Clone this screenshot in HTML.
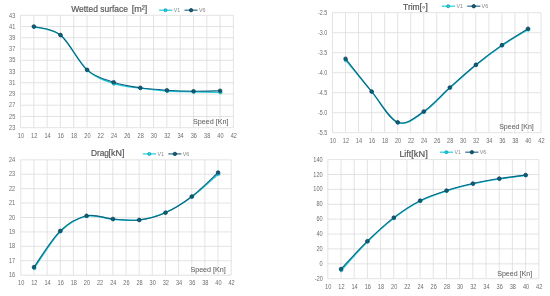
<!DOCTYPE html>
<html><head><meta charset="utf-8"><title>Charts</title>
<style>
html,body{margin:0;padding:0;background:#fff;}
body{width:550px;height:296px;overflow:hidden;}
svg{display:block;filter:blur(0.3px);}
.t{font-family:"Liberation Sans", "DejaVu Sans", sans-serif;font-size:6.6px;fill:#6e6e6e;}
.ti{font-family:"Liberation Sans", "DejaVu Sans", sans-serif;font-size:8.8px;fill:#595959;stroke:#595959;stroke-width:0.2px;}
.sp{font-family:"Liberation Sans", "DejaVu Sans", sans-serif;font-size:7.7px;fill:#626262;stroke:#626262;stroke-width:0.05px;}
.lg{font-family:"Liberation Sans", "DejaVu Sans", sans-serif;font-size:6.2px;fill:#888;}
</style></head><body>
<svg width="550" height="296" viewBox="0 0 550 296">
<rect width="550" height="296" fill="#fff"/>
<g>
<line x1="20.50" y1="15.30" x2="20.50" y2="127.70" stroke="#dcdcdc" stroke-width="0.8"/>
<line x1="33.81" y1="15.30" x2="33.81" y2="127.70" stroke="#dcdcdc" stroke-width="0.8"/>
<line x1="47.11" y1="15.30" x2="47.11" y2="127.70" stroke="#dcdcdc" stroke-width="0.8"/>
<line x1="60.42" y1="15.30" x2="60.42" y2="127.70" stroke="#dcdcdc" stroke-width="0.8"/>
<line x1="73.72" y1="15.30" x2="73.72" y2="127.70" stroke="#dcdcdc" stroke-width="0.8"/>
<line x1="87.03" y1="15.30" x2="87.03" y2="127.70" stroke="#dcdcdc" stroke-width="0.8"/>
<line x1="100.34" y1="15.30" x2="100.34" y2="127.70" stroke="#dcdcdc" stroke-width="0.8"/>
<line x1="113.64" y1="15.30" x2="113.64" y2="127.70" stroke="#dcdcdc" stroke-width="0.8"/>
<line x1="126.95" y1="15.30" x2="126.95" y2="127.70" stroke="#dcdcdc" stroke-width="0.8"/>
<line x1="140.26" y1="15.30" x2="140.26" y2="127.70" stroke="#dcdcdc" stroke-width="0.8"/>
<line x1="153.56" y1="15.30" x2="153.56" y2="127.70" stroke="#dcdcdc" stroke-width="0.8"/>
<line x1="166.87" y1="15.30" x2="166.87" y2="127.70" stroke="#dcdcdc" stroke-width="0.8"/>
<line x1="180.18" y1="15.30" x2="180.18" y2="127.70" stroke="#dcdcdc" stroke-width="0.8"/>
<line x1="193.48" y1="15.30" x2="193.48" y2="127.70" stroke="#dcdcdc" stroke-width="0.8"/>
<line x1="206.79" y1="15.30" x2="206.79" y2="127.70" stroke="#dcdcdc" stroke-width="0.8"/>
<line x1="220.09" y1="15.30" x2="220.09" y2="127.70" stroke="#dcdcdc" stroke-width="0.8"/>
<line x1="233.40" y1="15.30" x2="233.40" y2="127.70" stroke="#dcdcdc" stroke-width="0.8"/>
<line x1="20.50" y1="15.30" x2="233.40" y2="15.30" stroke="#dcdcdc" stroke-width="0.8"/>
<line x1="20.50" y1="26.54" x2="233.40" y2="26.54" stroke="#dcdcdc" stroke-width="0.8"/>
<line x1="20.50" y1="37.78" x2="233.40" y2="37.78" stroke="#dcdcdc" stroke-width="0.8"/>
<line x1="20.50" y1="49.02" x2="233.40" y2="49.02" stroke="#dcdcdc" stroke-width="0.8"/>
<line x1="20.50" y1="60.26" x2="233.40" y2="60.26" stroke="#dcdcdc" stroke-width="0.8"/>
<line x1="20.50" y1="71.50" x2="233.40" y2="71.50" stroke="#dcdcdc" stroke-width="0.8"/>
<line x1="20.50" y1="82.74" x2="233.40" y2="82.74" stroke="#dcdcdc" stroke-width="0.8"/>
<line x1="20.50" y1="93.98" x2="233.40" y2="93.98" stroke="#dcdcdc" stroke-width="0.8"/>
<line x1="20.50" y1="105.22" x2="233.40" y2="105.22" stroke="#dcdcdc" stroke-width="0.8"/>
<line x1="20.50" y1="116.46" x2="233.40" y2="116.46" stroke="#dcdcdc" stroke-width="0.8"/>
<line x1="20.50" y1="127.70" x2="233.40" y2="127.70" stroke="#dcdcdc" stroke-width="0.8"/>
<text x="20.90" y="138.40" text-anchor="middle" class="t" textLength="6.24" lengthAdjust="spacingAndGlyphs">10</text>
<text x="34.21" y="138.40" text-anchor="middle" class="t" textLength="6.24" lengthAdjust="spacingAndGlyphs">12</text>
<text x="47.51" y="138.40" text-anchor="middle" class="t" textLength="6.24" lengthAdjust="spacingAndGlyphs">14</text>
<text x="60.82" y="138.40" text-anchor="middle" class="t" textLength="6.24" lengthAdjust="spacingAndGlyphs">16</text>
<text x="74.12" y="138.40" text-anchor="middle" class="t" textLength="6.24" lengthAdjust="spacingAndGlyphs">18</text>
<text x="87.43" y="138.40" text-anchor="middle" class="t" textLength="6.24" lengthAdjust="spacingAndGlyphs">20</text>
<text x="100.74" y="138.40" text-anchor="middle" class="t" textLength="6.24" lengthAdjust="spacingAndGlyphs">22</text>
<text x="114.04" y="138.40" text-anchor="middle" class="t" textLength="6.24" lengthAdjust="spacingAndGlyphs">24</text>
<text x="127.35" y="138.40" text-anchor="middle" class="t" textLength="6.24" lengthAdjust="spacingAndGlyphs">26</text>
<text x="140.66" y="138.40" text-anchor="middle" class="t" textLength="6.24" lengthAdjust="spacingAndGlyphs">28</text>
<text x="153.96" y="138.40" text-anchor="middle" class="t" textLength="6.24" lengthAdjust="spacingAndGlyphs">30</text>
<text x="167.27" y="138.40" text-anchor="middle" class="t" textLength="6.24" lengthAdjust="spacingAndGlyphs">32</text>
<text x="180.58" y="138.40" text-anchor="middle" class="t" textLength="6.24" lengthAdjust="spacingAndGlyphs">34</text>
<text x="193.88" y="138.40" text-anchor="middle" class="t" textLength="6.24" lengthAdjust="spacingAndGlyphs">36</text>
<text x="207.19" y="138.40" text-anchor="middle" class="t" textLength="6.24" lengthAdjust="spacingAndGlyphs">38</text>
<text x="220.49" y="138.40" text-anchor="middle" class="t" textLength="6.24" lengthAdjust="spacingAndGlyphs">40</text>
<text x="233.80" y="138.40" text-anchor="middle" class="t" textLength="6.24" lengthAdjust="spacingAndGlyphs">42</text>
<text x="15.30" y="17.50" text-anchor="end" class="t" textLength="6.24" lengthAdjust="spacingAndGlyphs">43</text>
<text x="15.30" y="28.74" text-anchor="end" class="t" textLength="6.24" lengthAdjust="spacingAndGlyphs">41</text>
<text x="15.30" y="39.98" text-anchor="end" class="t" textLength="6.24" lengthAdjust="spacingAndGlyphs">39</text>
<text x="15.30" y="51.22" text-anchor="end" class="t" textLength="6.24" lengthAdjust="spacingAndGlyphs">37</text>
<text x="15.30" y="62.46" text-anchor="end" class="t" textLength="6.24" lengthAdjust="spacingAndGlyphs">35</text>
<text x="15.30" y="73.70" text-anchor="end" class="t" textLength="6.24" lengthAdjust="spacingAndGlyphs">33</text>
<text x="15.30" y="84.94" text-anchor="end" class="t" textLength="6.24" lengthAdjust="spacingAndGlyphs">31</text>
<text x="15.30" y="96.18" text-anchor="end" class="t" textLength="6.24" lengthAdjust="spacingAndGlyphs">29</text>
<text x="15.30" y="107.42" text-anchor="end" class="t" textLength="6.24" lengthAdjust="spacingAndGlyphs">27</text>
<text x="15.30" y="118.66" text-anchor="end" class="t" textLength="6.24" lengthAdjust="spacingAndGlyphs">25</text>
<text x="15.30" y="129.90" text-anchor="end" class="t" textLength="6.24" lengthAdjust="spacingAndGlyphs">23</text>
<text x="71.20" y="11.80" class="ti" textLength="56.8" lengthAdjust="spacingAndGlyphs">Wetted surface</text>
<text x="131.80" y="11.80" class="ti" textLength="15.6" lengthAdjust="spacingAndGlyphs">[m²]</text>
<text x="228.50" y="124.40" text-anchor="end" class="sp" textLength="35.6" lengthAdjust="spacingAndGlyphs">Speed [Kn]</text>
<line x1="159.10" y1="10.20" x2="172.30" y2="10.20" stroke="#2fd3de" stroke-width="1.3"/>
<circle cx="165.50" cy="10.20" r="1.5" fill="#20d8e4" stroke="#0b98ab" stroke-width="0.8"/>
<text x="173.70" y="12.40" class="lg" textLength="6.4" lengthAdjust="spacingAndGlyphs">V1</text>
<line x1="184.50" y1="10.20" x2="197.60" y2="10.20" stroke="#3d7995" stroke-width="1.3"/>
<circle cx="191.10" cy="10.20" r="1.7" fill="#155c76" stroke="#0a3c54" stroke-width="0.8"/>
<text x="198.90" y="12.40" class="lg" textLength="6.6" lengthAdjust="spacingAndGlyphs">V6</text>
<path d="M34.16,26.89 C38.59,28.30 51.90,28.11 60.77,35.32 C69.64,42.53 78.51,62.11 87.38,70.16 C96.25,78.22 105.12,80.65 113.99,83.65 C122.86,86.65 131.74,86.93 140.61,88.15 C149.48,89.37 158.35,90.37 167.22,90.96 C176.09,91.55 184.96,91.45 193.83,91.69 C202.70,91.92 216.01,92.25 220.44,92.36" fill="none" stroke="#18c8d6" stroke-width="1.4" stroke-linecap="round"/>
<circle cx="34.16" cy="26.89" r="1.7" fill="#20d8e4" stroke="#0b98ab" stroke-width="0.6"/>
<circle cx="60.77" cy="35.32" r="1.7" fill="#20d8e4" stroke="#0b98ab" stroke-width="0.6"/>
<circle cx="87.38" cy="70.16" r="1.7" fill="#20d8e4" stroke="#0b98ab" stroke-width="0.6"/>
<circle cx="113.99" cy="83.65" r="1.7" fill="#20d8e4" stroke="#0b98ab" stroke-width="0.6"/>
<circle cx="140.61" cy="88.15" r="1.7" fill="#20d8e4" stroke="#0b98ab" stroke-width="0.6"/>
<circle cx="167.22" cy="90.96" r="1.7" fill="#20d8e4" stroke="#0b98ab" stroke-width="0.6"/>
<circle cx="193.83" cy="91.69" r="1.7" fill="#20d8e4" stroke="#0b98ab" stroke-width="0.6"/>
<circle cx="220.44" cy="92.36" r="1.7" fill="#20d8e4" stroke="#0b98ab" stroke-width="0.6"/>
<path d="M33.81,26.54 C38.24,27.95 51.55,27.76 60.42,34.97 C69.29,42.18 78.16,61.95 87.03,69.81 C95.90,77.68 104.77,79.18 113.64,82.18 C122.51,85.18 131.39,86.45 140.26,87.80 C149.13,89.15 158.00,89.70 166.87,90.27 C175.74,90.84 184.61,91.14 193.48,91.23 C202.35,91.31 215.66,90.85 220.09,90.78" fill="none" stroke="#0f6380" stroke-width="1.1" stroke-linecap="round"/>
<circle cx="33.81" cy="26.54" r="1.8" fill="#155c76" stroke="#0a3c54" stroke-width="0.7"/>
<circle cx="60.42" cy="34.97" r="1.8" fill="#155c76" stroke="#0a3c54" stroke-width="0.7"/>
<circle cx="87.03" cy="69.81" r="1.8" fill="#155c76" stroke="#0a3c54" stroke-width="0.7"/>
<circle cx="113.64" cy="82.18" r="1.8" fill="#155c76" stroke="#0a3c54" stroke-width="0.7"/>
<circle cx="140.26" cy="87.80" r="1.8" fill="#155c76" stroke="#0a3c54" stroke-width="0.7"/>
<circle cx="166.87" cy="90.27" r="1.8" fill="#155c76" stroke="#0a3c54" stroke-width="0.7"/>
<circle cx="193.48" cy="91.23" r="1.8" fill="#155c76" stroke="#0a3c54" stroke-width="0.7"/>
<circle cx="220.09" cy="90.78" r="1.8" fill="#155c76" stroke="#0a3c54" stroke-width="0.7"/>
</g>
<g>
<line x1="332.50" y1="12.70" x2="332.50" y2="132.70" stroke="#dcdcdc" stroke-width="0.8"/>
<line x1="345.53" y1="12.70" x2="345.53" y2="132.70" stroke="#dcdcdc" stroke-width="0.8"/>
<line x1="358.56" y1="12.70" x2="358.56" y2="132.70" stroke="#dcdcdc" stroke-width="0.8"/>
<line x1="371.59" y1="12.70" x2="371.59" y2="132.70" stroke="#dcdcdc" stroke-width="0.8"/>
<line x1="384.62" y1="12.70" x2="384.62" y2="132.70" stroke="#dcdcdc" stroke-width="0.8"/>
<line x1="397.66" y1="12.70" x2="397.66" y2="132.70" stroke="#dcdcdc" stroke-width="0.8"/>
<line x1="410.69" y1="12.70" x2="410.69" y2="132.70" stroke="#dcdcdc" stroke-width="0.8"/>
<line x1="423.72" y1="12.70" x2="423.72" y2="132.70" stroke="#dcdcdc" stroke-width="0.8"/>
<line x1="436.75" y1="12.70" x2="436.75" y2="132.70" stroke="#dcdcdc" stroke-width="0.8"/>
<line x1="449.78" y1="12.70" x2="449.78" y2="132.70" stroke="#dcdcdc" stroke-width="0.8"/>
<line x1="462.81" y1="12.70" x2="462.81" y2="132.70" stroke="#dcdcdc" stroke-width="0.8"/>
<line x1="475.84" y1="12.70" x2="475.84" y2="132.70" stroke="#dcdcdc" stroke-width="0.8"/>
<line x1="488.88" y1="12.70" x2="488.88" y2="132.70" stroke="#dcdcdc" stroke-width="0.8"/>
<line x1="501.91" y1="12.70" x2="501.91" y2="132.70" stroke="#dcdcdc" stroke-width="0.8"/>
<line x1="514.94" y1="12.70" x2="514.94" y2="132.70" stroke="#dcdcdc" stroke-width="0.8"/>
<line x1="527.97" y1="12.70" x2="527.97" y2="132.70" stroke="#dcdcdc" stroke-width="0.8"/>
<line x1="541.00" y1="12.70" x2="541.00" y2="132.70" stroke="#dcdcdc" stroke-width="0.8"/>
<line x1="332.50" y1="12.70" x2="541.00" y2="12.70" stroke="#dcdcdc" stroke-width="0.8"/>
<line x1="332.50" y1="32.70" x2="541.00" y2="32.70" stroke="#dcdcdc" stroke-width="0.8"/>
<line x1="332.50" y1="52.70" x2="541.00" y2="52.70" stroke="#dcdcdc" stroke-width="0.8"/>
<line x1="332.50" y1="72.70" x2="541.00" y2="72.70" stroke="#dcdcdc" stroke-width="0.8"/>
<line x1="332.50" y1="92.70" x2="541.00" y2="92.70" stroke="#dcdcdc" stroke-width="0.8"/>
<line x1="332.50" y1="112.70" x2="541.00" y2="112.70" stroke="#dcdcdc" stroke-width="0.8"/>
<line x1="332.50" y1="132.70" x2="541.00" y2="132.70" stroke="#dcdcdc" stroke-width="0.8"/>
<text x="332.90" y="143.10" text-anchor="middle" class="t" textLength="6.24" lengthAdjust="spacingAndGlyphs">10</text>
<text x="345.93" y="143.10" text-anchor="middle" class="t" textLength="6.24" lengthAdjust="spacingAndGlyphs">12</text>
<text x="358.96" y="143.10" text-anchor="middle" class="t" textLength="6.24" lengthAdjust="spacingAndGlyphs">14</text>
<text x="371.99" y="143.10" text-anchor="middle" class="t" textLength="6.24" lengthAdjust="spacingAndGlyphs">16</text>
<text x="385.02" y="143.10" text-anchor="middle" class="t" textLength="6.24" lengthAdjust="spacingAndGlyphs">18</text>
<text x="398.06" y="143.10" text-anchor="middle" class="t" textLength="6.24" lengthAdjust="spacingAndGlyphs">20</text>
<text x="411.09" y="143.10" text-anchor="middle" class="t" textLength="6.24" lengthAdjust="spacingAndGlyphs">22</text>
<text x="424.12" y="143.10" text-anchor="middle" class="t" textLength="6.24" lengthAdjust="spacingAndGlyphs">24</text>
<text x="437.15" y="143.10" text-anchor="middle" class="t" textLength="6.24" lengthAdjust="spacingAndGlyphs">26</text>
<text x="450.18" y="143.10" text-anchor="middle" class="t" textLength="6.24" lengthAdjust="spacingAndGlyphs">28</text>
<text x="463.21" y="143.10" text-anchor="middle" class="t" textLength="6.24" lengthAdjust="spacingAndGlyphs">30</text>
<text x="476.24" y="143.10" text-anchor="middle" class="t" textLength="6.24" lengthAdjust="spacingAndGlyphs">32</text>
<text x="489.27" y="143.10" text-anchor="middle" class="t" textLength="6.24" lengthAdjust="spacingAndGlyphs">34</text>
<text x="502.31" y="143.10" text-anchor="middle" class="t" textLength="6.24" lengthAdjust="spacingAndGlyphs">36</text>
<text x="515.34" y="143.10" text-anchor="middle" class="t" textLength="6.24" lengthAdjust="spacingAndGlyphs">38</text>
<text x="528.37" y="143.10" text-anchor="middle" class="t" textLength="6.24" lengthAdjust="spacingAndGlyphs">40</text>
<text x="541.40" y="143.10" text-anchor="middle" class="t" textLength="6.24" lengthAdjust="spacingAndGlyphs">42</text>
<text x="327.20" y="14.50" text-anchor="end" class="t" textLength="9.27" lengthAdjust="spacingAndGlyphs">-2.5</text>
<text x="327.20" y="34.50" text-anchor="end" class="t" textLength="9.27" lengthAdjust="spacingAndGlyphs">-3.0</text>
<text x="327.20" y="54.50" text-anchor="end" class="t" textLength="9.27" lengthAdjust="spacingAndGlyphs">-3.5</text>
<text x="327.20" y="74.50" text-anchor="end" class="t" textLength="9.27" lengthAdjust="spacingAndGlyphs">-4.0</text>
<text x="327.20" y="94.50" text-anchor="end" class="t" textLength="9.27" lengthAdjust="spacingAndGlyphs">-4.5</text>
<text x="327.20" y="114.50" text-anchor="end" class="t" textLength="9.27" lengthAdjust="spacingAndGlyphs">-5.0</text>
<text x="327.20" y="134.50" text-anchor="end" class="t" textLength="9.27" lengthAdjust="spacingAndGlyphs">-5.5</text>
<text x="403.00" y="10.00" class="ti" textLength="16.7" lengthAdjust="spacingAndGlyphs">Trim</text>
<text x="419.40" y="10.00" class="ti" textLength="8.5" lengthAdjust="spacingAndGlyphs">[◦]</text>
<text x="533.80" y="129.10" text-anchor="end" class="sp" textLength="34.6" lengthAdjust="spacingAndGlyphs">Speed [Kn]</text>
<line x1="441.80" y1="6.20" x2="455.00" y2="6.20" stroke="#2fd3de" stroke-width="1.3"/>
<circle cx="448.20" cy="6.20" r="1.5" fill="#20d8e4" stroke="#0b98ab" stroke-width="0.8"/>
<text x="456.40" y="8.40" class="lg" textLength="6.4" lengthAdjust="spacingAndGlyphs">V1</text>
<line x1="467.20" y1="6.20" x2="480.30" y2="6.20" stroke="#3d7995" stroke-width="1.3"/>
<circle cx="473.80" cy="6.20" r="1.7" fill="#155c76" stroke="#0a3c54" stroke-width="0.8"/>
<text x="481.60" y="8.40" class="lg" textLength="6.6" lengthAdjust="spacingAndGlyphs">V6</text>
<path d="M345.88,60.25 C350.23,65.52 363.26,81.45 371.94,91.85 C380.63,102.25 389.32,119.32 398.01,122.65 C406.69,125.98 415.38,117.65 424.07,111.85 C432.76,106.05 441.44,95.65 450.13,87.85 C458.82,80.05 467.51,72.12 476.19,65.05 C484.88,57.98 493.57,51.38 502.26,45.45 C510.94,39.52 523.98,32.12 528.32,29.45" fill="none" stroke="#18c8d6" stroke-width="1.4" stroke-linecap="round"/>
<circle cx="345.88" cy="60.25" r="1.7" fill="#20d8e4" stroke="#0b98ab" stroke-width="0.6"/>
<circle cx="371.94" cy="91.85" r="1.7" fill="#20d8e4" stroke="#0b98ab" stroke-width="0.6"/>
<circle cx="398.01" cy="122.65" r="1.7" fill="#20d8e4" stroke="#0b98ab" stroke-width="0.6"/>
<circle cx="424.07" cy="111.85" r="1.7" fill="#20d8e4" stroke="#0b98ab" stroke-width="0.6"/>
<circle cx="450.13" cy="87.85" r="1.7" fill="#20d8e4" stroke="#0b98ab" stroke-width="0.6"/>
<circle cx="476.19" cy="65.05" r="1.7" fill="#20d8e4" stroke="#0b98ab" stroke-width="0.6"/>
<circle cx="502.26" cy="45.45" r="1.7" fill="#20d8e4" stroke="#0b98ab" stroke-width="0.6"/>
<circle cx="528.32" cy="29.45" r="1.7" fill="#20d8e4" stroke="#0b98ab" stroke-width="0.6"/>
<path d="M345.53,58.70 C349.88,64.17 362.91,80.90 371.59,91.50 C380.28,102.10 388.97,118.97 397.66,122.30 C406.34,125.63 415.03,117.30 423.72,111.50 C432.41,105.70 441.09,95.30 449.78,87.50 C458.47,79.70 467.16,71.77 475.84,64.70 C484.53,57.63 493.22,51.10 501.91,45.10 C510.59,39.10 523.62,31.43 527.97,28.70" fill="none" stroke="#0f6380" stroke-width="1.1" stroke-linecap="round"/>
<circle cx="345.53" cy="58.70" r="1.8" fill="#155c76" stroke="#0a3c54" stroke-width="0.7"/>
<circle cx="371.59" cy="91.50" r="1.8" fill="#155c76" stroke="#0a3c54" stroke-width="0.7"/>
<circle cx="397.66" cy="122.30" r="1.8" fill="#155c76" stroke="#0a3c54" stroke-width="0.7"/>
<circle cx="423.72" cy="111.50" r="1.8" fill="#155c76" stroke="#0a3c54" stroke-width="0.7"/>
<circle cx="449.78" cy="87.50" r="1.8" fill="#155c76" stroke="#0a3c54" stroke-width="0.7"/>
<circle cx="475.84" cy="64.70" r="1.8" fill="#155c76" stroke="#0a3c54" stroke-width="0.7"/>
<circle cx="501.91" cy="45.10" r="1.8" fill="#155c76" stroke="#0a3c54" stroke-width="0.7"/>
<circle cx="527.97" cy="28.70" r="1.8" fill="#155c76" stroke="#0a3c54" stroke-width="0.7"/>
</g>
<g>
<line x1="20.80" y1="159.80" x2="20.80" y2="275.20" stroke="#dcdcdc" stroke-width="0.8"/>
<line x1="33.95" y1="159.80" x2="33.95" y2="275.20" stroke="#dcdcdc" stroke-width="0.8"/>
<line x1="47.10" y1="159.80" x2="47.10" y2="275.20" stroke="#dcdcdc" stroke-width="0.8"/>
<line x1="60.25" y1="159.80" x2="60.25" y2="275.20" stroke="#dcdcdc" stroke-width="0.8"/>
<line x1="73.40" y1="159.80" x2="73.40" y2="275.20" stroke="#dcdcdc" stroke-width="0.8"/>
<line x1="86.55" y1="159.80" x2="86.55" y2="275.20" stroke="#dcdcdc" stroke-width="0.8"/>
<line x1="99.70" y1="159.80" x2="99.70" y2="275.20" stroke="#dcdcdc" stroke-width="0.8"/>
<line x1="112.85" y1="159.80" x2="112.85" y2="275.20" stroke="#dcdcdc" stroke-width="0.8"/>
<line x1="126.00" y1="159.80" x2="126.00" y2="275.20" stroke="#dcdcdc" stroke-width="0.8"/>
<line x1="139.15" y1="159.80" x2="139.15" y2="275.20" stroke="#dcdcdc" stroke-width="0.8"/>
<line x1="152.30" y1="159.80" x2="152.30" y2="275.20" stroke="#dcdcdc" stroke-width="0.8"/>
<line x1="165.45" y1="159.80" x2="165.45" y2="275.20" stroke="#dcdcdc" stroke-width="0.8"/>
<line x1="178.60" y1="159.80" x2="178.60" y2="275.20" stroke="#dcdcdc" stroke-width="0.8"/>
<line x1="191.75" y1="159.80" x2="191.75" y2="275.20" stroke="#dcdcdc" stroke-width="0.8"/>
<line x1="204.90" y1="159.80" x2="204.90" y2="275.20" stroke="#dcdcdc" stroke-width="0.8"/>
<line x1="218.05" y1="159.80" x2="218.05" y2="275.20" stroke="#dcdcdc" stroke-width="0.8"/>
<line x1="231.20" y1="159.80" x2="231.20" y2="275.20" stroke="#dcdcdc" stroke-width="0.8"/>
<line x1="20.80" y1="159.80" x2="231.20" y2="159.80" stroke="#dcdcdc" stroke-width="0.8"/>
<line x1="20.80" y1="174.23" x2="231.20" y2="174.23" stroke="#dcdcdc" stroke-width="0.8"/>
<line x1="20.80" y1="188.65" x2="231.20" y2="188.65" stroke="#dcdcdc" stroke-width="0.8"/>
<line x1="20.80" y1="203.07" x2="231.20" y2="203.07" stroke="#dcdcdc" stroke-width="0.8"/>
<line x1="20.80" y1="217.50" x2="231.20" y2="217.50" stroke="#dcdcdc" stroke-width="0.8"/>
<line x1="20.80" y1="231.93" x2="231.20" y2="231.93" stroke="#dcdcdc" stroke-width="0.8"/>
<line x1="20.80" y1="246.35" x2="231.20" y2="246.35" stroke="#dcdcdc" stroke-width="0.8"/>
<line x1="20.80" y1="260.77" x2="231.20" y2="260.77" stroke="#dcdcdc" stroke-width="0.8"/>
<line x1="20.80" y1="275.20" x2="231.20" y2="275.20" stroke="#dcdcdc" stroke-width="0.8"/>
<text x="21.20" y="285.40" text-anchor="middle" class="t" textLength="6.24" lengthAdjust="spacingAndGlyphs">10</text>
<text x="34.35" y="285.40" text-anchor="middle" class="t" textLength="6.24" lengthAdjust="spacingAndGlyphs">12</text>
<text x="47.50" y="285.40" text-anchor="middle" class="t" textLength="6.24" lengthAdjust="spacingAndGlyphs">14</text>
<text x="60.65" y="285.40" text-anchor="middle" class="t" textLength="6.24" lengthAdjust="spacingAndGlyphs">16</text>
<text x="73.80" y="285.40" text-anchor="middle" class="t" textLength="6.24" lengthAdjust="spacingAndGlyphs">18</text>
<text x="86.95" y="285.40" text-anchor="middle" class="t" textLength="6.24" lengthAdjust="spacingAndGlyphs">20</text>
<text x="100.10" y="285.40" text-anchor="middle" class="t" textLength="6.24" lengthAdjust="spacingAndGlyphs">22</text>
<text x="113.25" y="285.40" text-anchor="middle" class="t" textLength="6.24" lengthAdjust="spacingAndGlyphs">24</text>
<text x="126.40" y="285.40" text-anchor="middle" class="t" textLength="6.24" lengthAdjust="spacingAndGlyphs">26</text>
<text x="139.55" y="285.40" text-anchor="middle" class="t" textLength="6.24" lengthAdjust="spacingAndGlyphs">28</text>
<text x="152.70" y="285.40" text-anchor="middle" class="t" textLength="6.24" lengthAdjust="spacingAndGlyphs">30</text>
<text x="165.85" y="285.40" text-anchor="middle" class="t" textLength="6.24" lengthAdjust="spacingAndGlyphs">32</text>
<text x="179.00" y="285.40" text-anchor="middle" class="t" textLength="6.24" lengthAdjust="spacingAndGlyphs">34</text>
<text x="192.15" y="285.40" text-anchor="middle" class="t" textLength="6.24" lengthAdjust="spacingAndGlyphs">36</text>
<text x="205.30" y="285.40" text-anchor="middle" class="t" textLength="6.24" lengthAdjust="spacingAndGlyphs">38</text>
<text x="218.45" y="285.40" text-anchor="middle" class="t" textLength="6.24" lengthAdjust="spacingAndGlyphs">40</text>
<text x="231.60" y="285.40" text-anchor="middle" class="t" textLength="6.24" lengthAdjust="spacingAndGlyphs">42</text>
<text x="15.20" y="161.90" text-anchor="end" class="t" textLength="6.24" lengthAdjust="spacingAndGlyphs">24</text>
<text x="15.20" y="176.33" text-anchor="end" class="t" textLength="6.24" lengthAdjust="spacingAndGlyphs">23</text>
<text x="15.20" y="190.75" text-anchor="end" class="t" textLength="6.24" lengthAdjust="spacingAndGlyphs">22</text>
<text x="15.20" y="205.17" text-anchor="end" class="t" textLength="6.24" lengthAdjust="spacingAndGlyphs">21</text>
<text x="15.20" y="219.60" text-anchor="end" class="t" textLength="6.24" lengthAdjust="spacingAndGlyphs">20</text>
<text x="15.20" y="234.03" text-anchor="end" class="t" textLength="6.24" lengthAdjust="spacingAndGlyphs">19</text>
<text x="15.20" y="248.45" text-anchor="end" class="t" textLength="6.24" lengthAdjust="spacingAndGlyphs">18</text>
<text x="15.20" y="262.88" text-anchor="end" class="t" textLength="6.24" lengthAdjust="spacingAndGlyphs">17</text>
<text x="15.20" y="277.30" text-anchor="end" class="t" textLength="6.24" lengthAdjust="spacingAndGlyphs">16</text>
<text x="90.90" y="155.70" class="ti" textLength="18.1" lengthAdjust="spacingAndGlyphs">Drag</text>
<text x="108.60" y="155.70" class="ti" textLength="15.9" lengthAdjust="spacingAndGlyphs">[kN]</text>
<text x="225.80" y="271.50" text-anchor="end" class="sp" textLength="35.4" lengthAdjust="spacingAndGlyphs">Speed [Kn]</text>
<line x1="142.90" y1="153.90" x2="156.10" y2="153.90" stroke="#2fd3de" stroke-width="1.3"/>
<circle cx="149.30" cy="153.90" r="1.5" fill="#20d8e4" stroke="#0b98ab" stroke-width="0.8"/>
<text x="157.50" y="156.10" class="lg" textLength="6.4" lengthAdjust="spacingAndGlyphs">V1</text>
<line x1="168.30" y1="153.90" x2="181.40" y2="153.90" stroke="#3d7995" stroke-width="1.3"/>
<circle cx="174.90" cy="153.90" r="1.7" fill="#155c76" stroke="#0a3c54" stroke-width="0.8"/>
<text x="182.70" y="156.10" class="lg" textLength="6.6" lengthAdjust="spacingAndGlyphs">V6</text>
<path d="M34.30,268.05 C38.68,261.92 51.83,239.92 60.60,231.27 C69.37,222.61 78.13,218.11 86.90,216.12 C95.67,214.12 104.43,218.64 113.20,219.29 C121.97,219.94 130.73,221.17 139.50,220.01 C148.27,218.86 157.03,216.24 165.80,212.37 C174.57,208.50 183.33,203.21 192.10,196.79 C200.87,190.37 214.02,177.68 218.40,173.85" fill="none" stroke="#18c8d6" stroke-width="1.4" stroke-linecap="round"/>
<circle cx="34.30" cy="268.05" r="1.7" fill="#20d8e4" stroke="#0b98ab" stroke-width="0.6"/>
<circle cx="60.60" cy="231.27" r="1.7" fill="#20d8e4" stroke="#0b98ab" stroke-width="0.6"/>
<circle cx="86.90" cy="216.12" r="1.7" fill="#20d8e4" stroke="#0b98ab" stroke-width="0.6"/>
<circle cx="113.20" cy="219.29" r="1.7" fill="#20d8e4" stroke="#0b98ab" stroke-width="0.6"/>
<circle cx="139.50" cy="220.01" r="1.7" fill="#20d8e4" stroke="#0b98ab" stroke-width="0.6"/>
<circle cx="165.80" cy="212.37" r="1.7" fill="#20d8e4" stroke="#0b98ab" stroke-width="0.6"/>
<circle cx="192.10" cy="196.79" r="1.7" fill="#20d8e4" stroke="#0b98ab" stroke-width="0.6"/>
<circle cx="218.40" cy="173.85" r="1.7" fill="#20d8e4" stroke="#0b98ab" stroke-width="0.6"/>
<path d="M33.95,267.12 C38.33,261.09 51.48,239.47 60.25,230.92 C69.02,222.36 77.78,217.76 86.55,215.77 C95.32,213.77 104.08,218.25 112.85,218.94 C121.62,219.64 130.38,220.99 139.15,219.95 C147.92,218.92 156.68,216.66 165.45,212.74 C174.22,208.82 182.98,203.15 191.75,196.44 C200.52,189.73 213.67,176.48 218.05,172.49" fill="none" stroke="#0f6380" stroke-width="1.1" stroke-linecap="round"/>
<circle cx="33.95" cy="267.12" r="1.8" fill="#155c76" stroke="#0a3c54" stroke-width="0.7"/>
<circle cx="60.25" cy="230.92" r="1.8" fill="#155c76" stroke="#0a3c54" stroke-width="0.7"/>
<circle cx="86.55" cy="215.77" r="1.8" fill="#155c76" stroke="#0a3c54" stroke-width="0.7"/>
<circle cx="112.85" cy="218.94" r="1.8" fill="#155c76" stroke="#0a3c54" stroke-width="0.7"/>
<circle cx="139.15" cy="219.95" r="1.8" fill="#155c76" stroke="#0a3c54" stroke-width="0.7"/>
<circle cx="165.45" cy="212.74" r="1.8" fill="#155c76" stroke="#0a3c54" stroke-width="0.7"/>
<circle cx="191.75" cy="196.44" r="1.8" fill="#155c76" stroke="#0a3c54" stroke-width="0.7"/>
<circle cx="218.05" cy="172.49" r="1.8" fill="#155c76" stroke="#0a3c54" stroke-width="0.7"/>
</g>
<g>
<line x1="327.80" y1="159.60" x2="327.80" y2="278.70" stroke="#dcdcdc" stroke-width="0.8"/>
<line x1="340.99" y1="159.60" x2="340.99" y2="278.70" stroke="#dcdcdc" stroke-width="0.8"/>
<line x1="354.18" y1="159.60" x2="354.18" y2="278.70" stroke="#dcdcdc" stroke-width="0.8"/>
<line x1="367.36" y1="159.60" x2="367.36" y2="278.70" stroke="#dcdcdc" stroke-width="0.8"/>
<line x1="380.55" y1="159.60" x2="380.55" y2="278.70" stroke="#dcdcdc" stroke-width="0.8"/>
<line x1="393.74" y1="159.60" x2="393.74" y2="278.70" stroke="#dcdcdc" stroke-width="0.8"/>
<line x1="406.92" y1="159.60" x2="406.92" y2="278.70" stroke="#dcdcdc" stroke-width="0.8"/>
<line x1="420.11" y1="159.60" x2="420.11" y2="278.70" stroke="#dcdcdc" stroke-width="0.8"/>
<line x1="433.30" y1="159.60" x2="433.30" y2="278.70" stroke="#dcdcdc" stroke-width="0.8"/>
<line x1="446.49" y1="159.60" x2="446.49" y2="278.70" stroke="#dcdcdc" stroke-width="0.8"/>
<line x1="459.67" y1="159.60" x2="459.67" y2="278.70" stroke="#dcdcdc" stroke-width="0.8"/>
<line x1="472.86" y1="159.60" x2="472.86" y2="278.70" stroke="#dcdcdc" stroke-width="0.8"/>
<line x1="486.05" y1="159.60" x2="486.05" y2="278.70" stroke="#dcdcdc" stroke-width="0.8"/>
<line x1="499.24" y1="159.60" x2="499.24" y2="278.70" stroke="#dcdcdc" stroke-width="0.8"/>
<line x1="512.42" y1="159.60" x2="512.42" y2="278.70" stroke="#dcdcdc" stroke-width="0.8"/>
<line x1="525.61" y1="159.60" x2="525.61" y2="278.70" stroke="#dcdcdc" stroke-width="0.8"/>
<line x1="538.80" y1="159.60" x2="538.80" y2="278.70" stroke="#dcdcdc" stroke-width="0.8"/>
<line x1="327.80" y1="159.60" x2="538.80" y2="159.60" stroke="#dcdcdc" stroke-width="0.8"/>
<line x1="327.80" y1="174.49" x2="538.80" y2="174.49" stroke="#dcdcdc" stroke-width="0.8"/>
<line x1="327.80" y1="189.38" x2="538.80" y2="189.38" stroke="#dcdcdc" stroke-width="0.8"/>
<line x1="327.80" y1="204.26" x2="538.80" y2="204.26" stroke="#dcdcdc" stroke-width="0.8"/>
<line x1="327.80" y1="219.15" x2="538.80" y2="219.15" stroke="#dcdcdc" stroke-width="0.8"/>
<line x1="327.80" y1="234.04" x2="538.80" y2="234.04" stroke="#dcdcdc" stroke-width="0.8"/>
<line x1="327.80" y1="248.92" x2="538.80" y2="248.92" stroke="#dcdcdc" stroke-width="0.8"/>
<line x1="327.80" y1="263.81" x2="538.80" y2="263.81" stroke="#dcdcdc" stroke-width="0.8"/>
<line x1="327.80" y1="278.70" x2="538.80" y2="278.70" stroke="#dcdcdc" stroke-width="0.8"/>
<text x="328.20" y="289.00" text-anchor="middle" class="t" textLength="6.24" lengthAdjust="spacingAndGlyphs">10</text>
<text x="341.39" y="289.00" text-anchor="middle" class="t" textLength="6.24" lengthAdjust="spacingAndGlyphs">12</text>
<text x="354.57" y="289.00" text-anchor="middle" class="t" textLength="6.24" lengthAdjust="spacingAndGlyphs">14</text>
<text x="367.76" y="289.00" text-anchor="middle" class="t" textLength="6.24" lengthAdjust="spacingAndGlyphs">16</text>
<text x="380.95" y="289.00" text-anchor="middle" class="t" textLength="6.24" lengthAdjust="spacingAndGlyphs">18</text>
<text x="394.14" y="289.00" text-anchor="middle" class="t" textLength="6.24" lengthAdjust="spacingAndGlyphs">20</text>
<text x="407.32" y="289.00" text-anchor="middle" class="t" textLength="6.24" lengthAdjust="spacingAndGlyphs">22</text>
<text x="420.51" y="289.00" text-anchor="middle" class="t" textLength="6.24" lengthAdjust="spacingAndGlyphs">24</text>
<text x="433.70" y="289.00" text-anchor="middle" class="t" textLength="6.24" lengthAdjust="spacingAndGlyphs">26</text>
<text x="446.89" y="289.00" text-anchor="middle" class="t" textLength="6.24" lengthAdjust="spacingAndGlyphs">28</text>
<text x="460.07" y="289.00" text-anchor="middle" class="t" textLength="6.24" lengthAdjust="spacingAndGlyphs">30</text>
<text x="473.26" y="289.00" text-anchor="middle" class="t" textLength="6.24" lengthAdjust="spacingAndGlyphs">32</text>
<text x="486.45" y="289.00" text-anchor="middle" class="t" textLength="6.24" lengthAdjust="spacingAndGlyphs">34</text>
<text x="499.64" y="289.00" text-anchor="middle" class="t" textLength="6.24" lengthAdjust="spacingAndGlyphs">36</text>
<text x="512.82" y="289.00" text-anchor="middle" class="t" textLength="6.24" lengthAdjust="spacingAndGlyphs">38</text>
<text x="526.01" y="289.00" text-anchor="middle" class="t" textLength="6.24" lengthAdjust="spacingAndGlyphs">40</text>
<text x="539.20" y="289.00" text-anchor="middle" class="t" textLength="6.24" lengthAdjust="spacingAndGlyphs">42</text>
<text x="322.70" y="161.70" text-anchor="end" class="t" textLength="9.36" lengthAdjust="spacingAndGlyphs">140</text>
<text x="322.70" y="176.59" text-anchor="end" class="t" textLength="9.36" lengthAdjust="spacingAndGlyphs">120</text>
<text x="322.70" y="191.47" text-anchor="end" class="t" textLength="9.36" lengthAdjust="spacingAndGlyphs">100</text>
<text x="322.70" y="206.36" text-anchor="end" class="t" textLength="6.24" lengthAdjust="spacingAndGlyphs">80</text>
<text x="322.70" y="221.25" text-anchor="end" class="t" textLength="6.24" lengthAdjust="spacingAndGlyphs">60</text>
<text x="322.70" y="236.14" text-anchor="end" class="t" textLength="6.24" lengthAdjust="spacingAndGlyphs">40</text>
<text x="322.70" y="251.02" text-anchor="end" class="t" textLength="6.24" lengthAdjust="spacingAndGlyphs">20</text>
<text x="322.70" y="265.91" text-anchor="end" class="t" textLength="3.12" lengthAdjust="spacingAndGlyphs">0</text>
<text x="322.70" y="280.80" text-anchor="end" class="t" textLength="7.87" lengthAdjust="spacingAndGlyphs">-20</text>
<text x="399.50" y="156.80" class="ti" textLength="11.7" lengthAdjust="spacingAndGlyphs">Lift</text>
<text x="411.30" y="156.80" class="ti" textLength="16.4" lengthAdjust="spacingAndGlyphs">[kN]</text>
<text x="532.20" y="275.50" text-anchor="end" class="sp" textLength="35.0" lengthAdjust="spacingAndGlyphs">Speed [Kn]</text>
<line x1="439.90" y1="152.20" x2="453.10" y2="152.20" stroke="#2fd3de" stroke-width="1.3"/>
<circle cx="446.30" cy="152.20" r="1.5" fill="#20d8e4" stroke="#0b98ab" stroke-width="0.8"/>
<text x="454.50" y="154.40" class="lg" textLength="6.4" lengthAdjust="spacingAndGlyphs">V1</text>
<line x1="465.30" y1="152.20" x2="478.40" y2="152.20" stroke="#3d7995" stroke-width="1.3"/>
<circle cx="471.90" cy="152.20" r="1.7" fill="#155c76" stroke="#0a3c54" stroke-width="0.8"/>
<text x="479.70" y="154.40" class="lg" textLength="6.6" lengthAdjust="spacingAndGlyphs">V6</text>
<path d="M341.34,270.12 C345.73,265.35 358.92,250.22 367.71,241.53 C376.50,232.85 385.30,224.77 394.09,218.01 C402.88,211.25 411.67,205.48 420.46,200.97 C429.25,196.45 438.05,193.76 446.84,190.92 C455.63,188.07 464.42,185.92 473.21,183.92 C482.00,181.92 490.80,180.36 499.59,178.93 C508.38,177.50 521.57,175.95 525.96,175.36" fill="none" stroke="#18c8d6" stroke-width="1.4" stroke-linecap="round"/>
<circle cx="341.34" cy="270.12" r="1.7" fill="#20d8e4" stroke="#0b98ab" stroke-width="0.6"/>
<circle cx="367.71" cy="241.53" r="1.7" fill="#20d8e4" stroke="#0b98ab" stroke-width="0.6"/>
<circle cx="394.09" cy="218.01" r="1.7" fill="#20d8e4" stroke="#0b98ab" stroke-width="0.6"/>
<circle cx="420.46" cy="200.97" r="1.7" fill="#20d8e4" stroke="#0b98ab" stroke-width="0.6"/>
<circle cx="446.84" cy="190.92" r="1.7" fill="#20d8e4" stroke="#0b98ab" stroke-width="0.6"/>
<circle cx="473.21" cy="183.92" r="1.7" fill="#20d8e4" stroke="#0b98ab" stroke-width="0.6"/>
<circle cx="499.59" cy="178.93" r="1.7" fill="#20d8e4" stroke="#0b98ab" stroke-width="0.6"/>
<circle cx="525.96" cy="175.36" r="1.7" fill="#20d8e4" stroke="#0b98ab" stroke-width="0.6"/>
<path d="M340.99,269.02 C345.38,264.38 358.57,249.74 367.36,241.18 C376.15,232.62 384.95,224.42 393.74,217.66 C402.53,210.90 411.32,205.13 420.11,200.62 C428.90,196.10 437.70,193.41 446.49,190.57 C455.28,187.72 464.07,185.57 472.86,183.57 C481.65,181.57 490.45,180.01 499.24,178.58 C508.03,177.15 521.22,175.60 525.61,175.01" fill="none" stroke="#0f6380" stroke-width="1.1" stroke-linecap="round"/>
<circle cx="340.99" cy="269.02" r="1.8" fill="#155c76" stroke="#0a3c54" stroke-width="0.7"/>
<circle cx="367.36" cy="241.18" r="1.8" fill="#155c76" stroke="#0a3c54" stroke-width="0.7"/>
<circle cx="393.74" cy="217.66" r="1.8" fill="#155c76" stroke="#0a3c54" stroke-width="0.7"/>
<circle cx="420.11" cy="200.62" r="1.8" fill="#155c76" stroke="#0a3c54" stroke-width="0.7"/>
<circle cx="446.49" cy="190.57" r="1.8" fill="#155c76" stroke="#0a3c54" stroke-width="0.7"/>
<circle cx="472.86" cy="183.57" r="1.8" fill="#155c76" stroke="#0a3c54" stroke-width="0.7"/>
<circle cx="499.24" cy="178.58" r="1.8" fill="#155c76" stroke="#0a3c54" stroke-width="0.7"/>
<circle cx="525.61" cy="175.01" r="1.8" fill="#155c76" stroke="#0a3c54" stroke-width="0.7"/>
</g>
</svg>
</body></html>
